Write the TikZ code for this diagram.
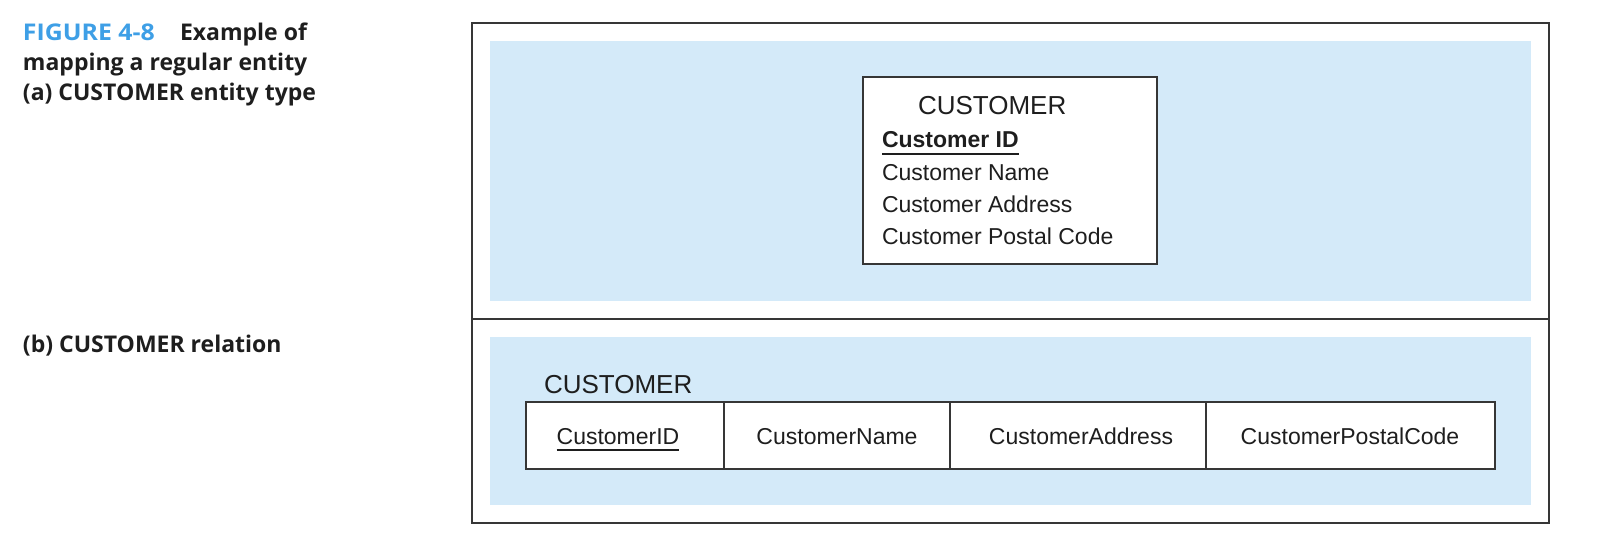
\documentclass[tikz,border=0pt]{standalone}
\usepackage{fontspec}
\setmainfont{Liberation Sans}
\newfontfamily\capfont{Open Sans}
\definecolor{panelblue}{HTML}{D4EAF9}
\definecolor{figblue}{HTML}{3E9FE6}
\definecolor{framegray}{HTML}{363636}
\definecolor{txt}{HTML}{1E1E1E}
\tikzset{
  txtnode/.style={inner sep=0pt, outer sep=0pt, anchor=base west, text=txt},
  captxt/.style={txtnode, font=\capfont\bfseries\fontsize{23}{27}\selectfont},
  entitytitle/.style={txtnode, font=\fontsize{26}{30}\selectfont},
  attr/.style={txtnode, font=\fontsize{23}{27}\selectfont},
  celltxt/.style={inner sep=0pt, outer sep=0pt, anchor=base, text=txt, font=\fontsize{23}{27}\selectfont},
  cellbox/.style={draw=framegray, line width=1.3pt, fill=white, anchor=north west, minimum height=67pt, inner sep=0pt, outer sep=0pt},
  panel/.style={fill=panelblue},
  framebox/.style={draw=framegray, line width=1.4pt}
}
\begin{document}
\begin{tikzpicture}[x=1pt,y=-1pt]
\useasboundingbox (0,0) rectangle (1612,548);
\fill[white] (0,0) rectangle (1612,548);

% caption
\node[captxt, text=figblue] (fig) at (23,40.5) {\scalebox{1.08}[1]{FIGURE 4-8}};
\node[captxt] (ex) at (180,40.5) {Example of};
\node[captxt] (map) at (23,70.5) {mapping a regular entity};
\node[captxt] (capa) at (23,100.5) {(a) CUSTOMER entity type};
\node[captxt] (capb) at (23,352) {(b) CUSTOMER relation};

% frame and panels
\fill[panel] (490,41) rectangle (1531,301);
\fill[panel] (490,337) rectangle (1531,505);
\draw[framebox] (472,23) rectangle (1549,523);
\draw[framebox] (472,319) -- (1549,319);

% entity box
\node[draw=framegray, line width=1.5pt, fill=white, anchor=north west, minimum width=294pt, minimum height=187pt, inner sep=0pt, outer sep=0pt] (ent) at (863,77) {};
\node[entitytitle] (etitle) at (918,115) {CUSTOMER};
\node[attr, font=\bfseries\fontsize{23}{27}\selectfont] (eid) at (882,148) {Customer ID};
\draw[txt, line width=1.3pt] ([yshift=-6pt]eid.base west) -- ([yshift=-6pt]eid.base east);
\node[attr] (ename) at (882,181) {Customer Name};
\node[attr] (eaddr) at (882,213) {Customer Address};
\node[attr] (epost) at (882,245) {Customer Postal Code};

% relation
\node[txtnode, font=\fontsize{26}{30}\selectfont] (rtitle) at (544,393) {CUSTOMER};
\node[cellbox, minimum width=198pt] (c1) at (526,402) {};
\node[cellbox, minimum width=226pt] (c2) at (724,402) {};
\node[cellbox, minimum width=256pt] (c3) at (950,402) {};
\node[cellbox, minimum width=289pt] (c4) at (1206,402) {};
\node[celltxt] (t1) at (618,444) {CustomerID};
\draw[txt, line width=1.2pt] ([yshift=-6pt]t1.base west) -- ([yshift=-6pt]t1.base east);
\node[celltxt] (t2) at (837,444) {CustomerName};
\node[celltxt] (t3) at (1081,444) {CustomerAddress};
\node[celltxt] (t4) at (1350,444) {CustomerPostalCode};
\end{tikzpicture}
\end{document}
